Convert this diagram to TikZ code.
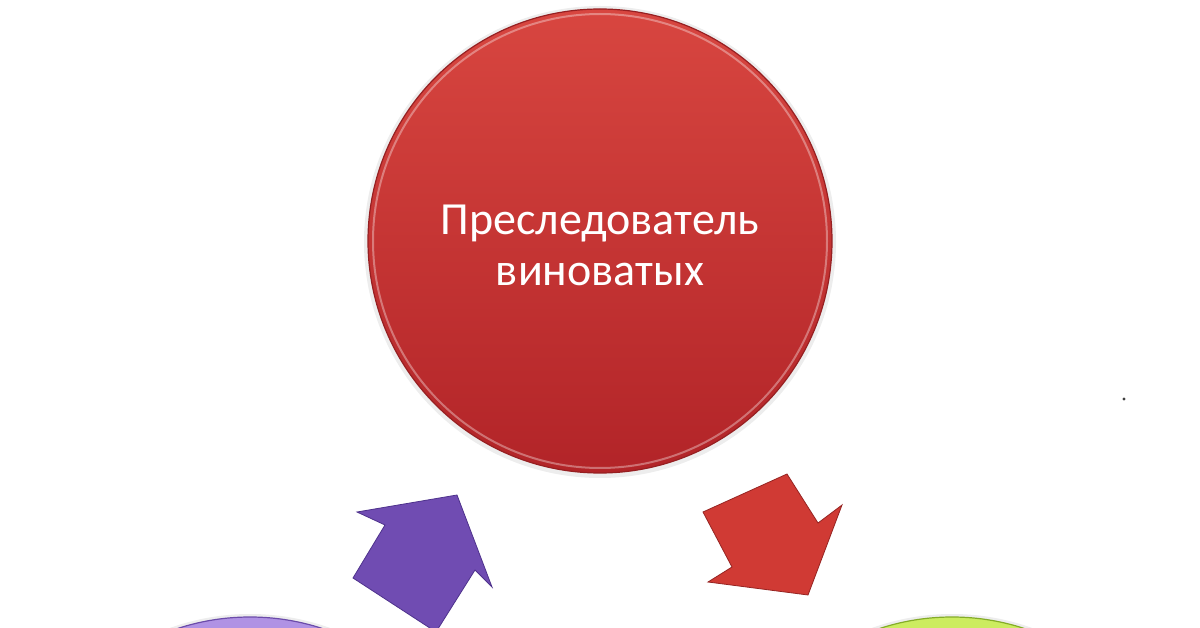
\documentclass[tikz,border=0pt]{standalone}
\usepackage{fontspec}
\setmainfont{Carlito}
\usetikzlibrary{positioning}

\definecolor{chaserTop}{RGB}{216,70,64}
\definecolor{chaserBot}{RGB}{178,36,40}
\definecolor{chaserRim}{RGB}{150,32,34}
\definecolor{victimFill}{RGB}{176,146,228}
\definecolor{victimRim}{RGB}{108,76,170}
\definecolor{rescuerFill}{RGB}{204,236,96}
\definecolor{rescuerRim}{RGB}{132,172,40}
\definecolor{arrowViolet}{RGB}{112,76,178}
\definecolor{arrowVioletDark}{RGB}{78,50,140}
\definecolor{arrowRed}{RGB}{208,58,52}
\definecolor{arrowRedDark}{RGB}{150,36,34}

\begin{document}
\begin{tikzpicture}[x=1pt, y=-1pt,
  ball/.style={circle, minimum size=464pt, inner sep=0pt, line width=1.2pt},
  halo/.style={circle, minimum size=472pt, inner sep=0pt, fill=black, opacity=0.07},
  rim/.style={circle, minimum size=454pt, inner sep=0pt, draw=white, line width=2pt, opacity=0.35},
  caption/.style={align=center, text=white, inner sep=0pt, font=\fontsize{46}{51}\selectfont},
  blockarrow/.style={line width=0.8pt, line join=miter}]

\useasboundingbox (0,0) rectangle (1200,628);
\clip (0,0) rectangle (1200,628);
\fill[white] (0,0) rectangle (1200,628);

% circles
\node[halo] at (600,242) (chaserhalo) {};
\node[ball, draw=chaserRim, top color=chaserTop, bottom color=chaserBot] at (600,241) (chaser) {};
\node[rim] at (600,241) (chaserrim) {};
\node[caption] at (600,245) (chasertext) {Преследователь\\виноватых};

\node[halo] at (250,850) (victimhalo) {};
\node[ball, draw=victimRim, fill=victimFill] at (250,849) (victim) {};
\node[halo] at (952,850) (rescuerhalo) {};
\node[ball, draw=rescuerRim, fill=rescuerFill] at (952,849) (rescuer) {};

% arrows
\draw[blockarrow, draw=arrowVioletDark, fill=arrowViolet]
  (457,495) -- (492,587) -- (475,570) -- (436,632) -- (353,578) -- (385,525) -- (357,512) -- cycle;
\draw[blockarrow, draw=arrowRedDark, fill=arrowRed]
  (703,512) -- (787,474) -- (818,523) -- (842,505) -- (808,595) -- (708,582) -- (732,567) -- cycle;

% stray dot
\fill[black!75] (1124,399) circle (1.6);
\end{tikzpicture}
\end{document}
